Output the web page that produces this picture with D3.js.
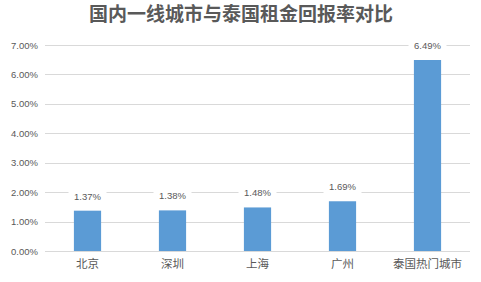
<!DOCTYPE html>
<html>
<head>
<meta charset="utf-8">
<script src="https://cdn.jsdelivr.net/npm/d3@7"></script>
<style>
	body { margin: 0; background: #fff; }
	svg text { fill: #595959; }
	.grid line { stroke: #d9d9d9; stroke-width: 1; }
</style>
</head>
<body>
<div id="chart"></div>
<script>
var w = 481, h = 282;

// Data
var cities = ["北京", "深圳", "上海", "广州", "泰国热门城市"];
var rates = [1.37, 1.38, 1.48, 1.69, 6.49];
var ticks = [0, 1, 2, 3, 4, 5, 6, 7];
var title = "国内一线城市与泰国租金回报率对比";

var margin = { left: 45, right: 11, top: 45, bottom: 31 };

var svg = d3.select("#chart").append("svg")
	.attr("width", w)
	.attr("height", h);

// Scales
var x = d3.scaleBand()
	.domain(cities)
	.range([margin.left, w - margin.right])
	.paddingInner(0.68)
	.paddingOuter(0.34);

var y = d3.scaleLinear()
	.domain([0, 7])
	.range([h - margin.bottom, margin.top]);

// Title
svg.append("text")
	.attr("x", 241)
	.attr("y", 21)
	.attr("text-anchor", "middle")
	.style("font-family", "'Noto Sans CJK SC', sans-serif")
	.style("font-weight", "bold")
	.style("font-size", "19px")
	.text(title);

// Gridlines
var grid = svg.append("g").attr("class", "grid");
grid.selectAll("line")
	.data(ticks)
	.enter()
	.append("line")
		.attr("x1", margin.left)
		.attr("x2", w - margin.right)
		.attr("y1", function(d) { return Math.round(y(d)) + 0.5; })
		.attr("y2", function(d) { return Math.round(y(d)) + 0.5; });

// Y axis labels
var yAxis = d3.axisLeft(y)
	.tickValues(ticks)
	.tickSize(0)
	.tickPadding(7)
	.tickFormat(function(d) { return d.toFixed(2) + "%"; });

svg.append("g")
	.attr("transform", "translate(" + margin.left + ",0)")
	.call(yAxis)
	.call(function(g) { g.select(".domain").remove(); })
	.selectAll("text")
		.style("font-family", "'Liberation Sans', sans-serif")
		.style("font-size", "9.5px")
		.attr("fill", "#595959");

// X axis labels
var xAxis = d3.axisBottom(x).tickSize(0).tickPadding(9);
svg.append("g")
	.attr("transform", "translate(0," + (h - margin.bottom) + ")")
	.call(xAxis)
	.call(function(g) { g.select(".domain").remove(); })
	.selectAll("text")
		.style("font-family", "'Noto Sans CJK SC', sans-serif")
		.style("font-size", "11.5px")
		.attr("fill", "#595959");

// Bars
svg.append("g").selectAll("rect")
	.data(rates)
	.enter()
	.append("rect")
		.attr("x", function(d, i) { return x(cities[i]); })
		.attr("y", function(d) { return y(d); })
		.attr("width", x.bandwidth())
		.attr("height", function(d) { return y(0) - y(d); })
		.attr("fill", "#5b9bd5");

// Value labels (white backing so gridlines break behind them)
var labels = svg.append("g").selectAll("g")
	.data(rates)
	.enter()
	.append("g")
		.attr("transform", function(d, i) {
			return "translate(" + (x(cities[i]) + x.bandwidth() / 2) + "," + (y(d) - 11) + ")";
		});

labels.append("rect")
	.attr("x", -19)
	.attr("y", -9)
	.attr("width", 38)
	.attr("height", 12)
	.attr("fill", "#fff");

labels.append("text")
	.attr("text-anchor", "middle")
	.style("font-family", "'Liberation Sans', sans-serif")
	.style("font-size", "9.5px")
	.text(function(d) { return d.toFixed(2) + "%"; });
</script>
</body>
</html>
